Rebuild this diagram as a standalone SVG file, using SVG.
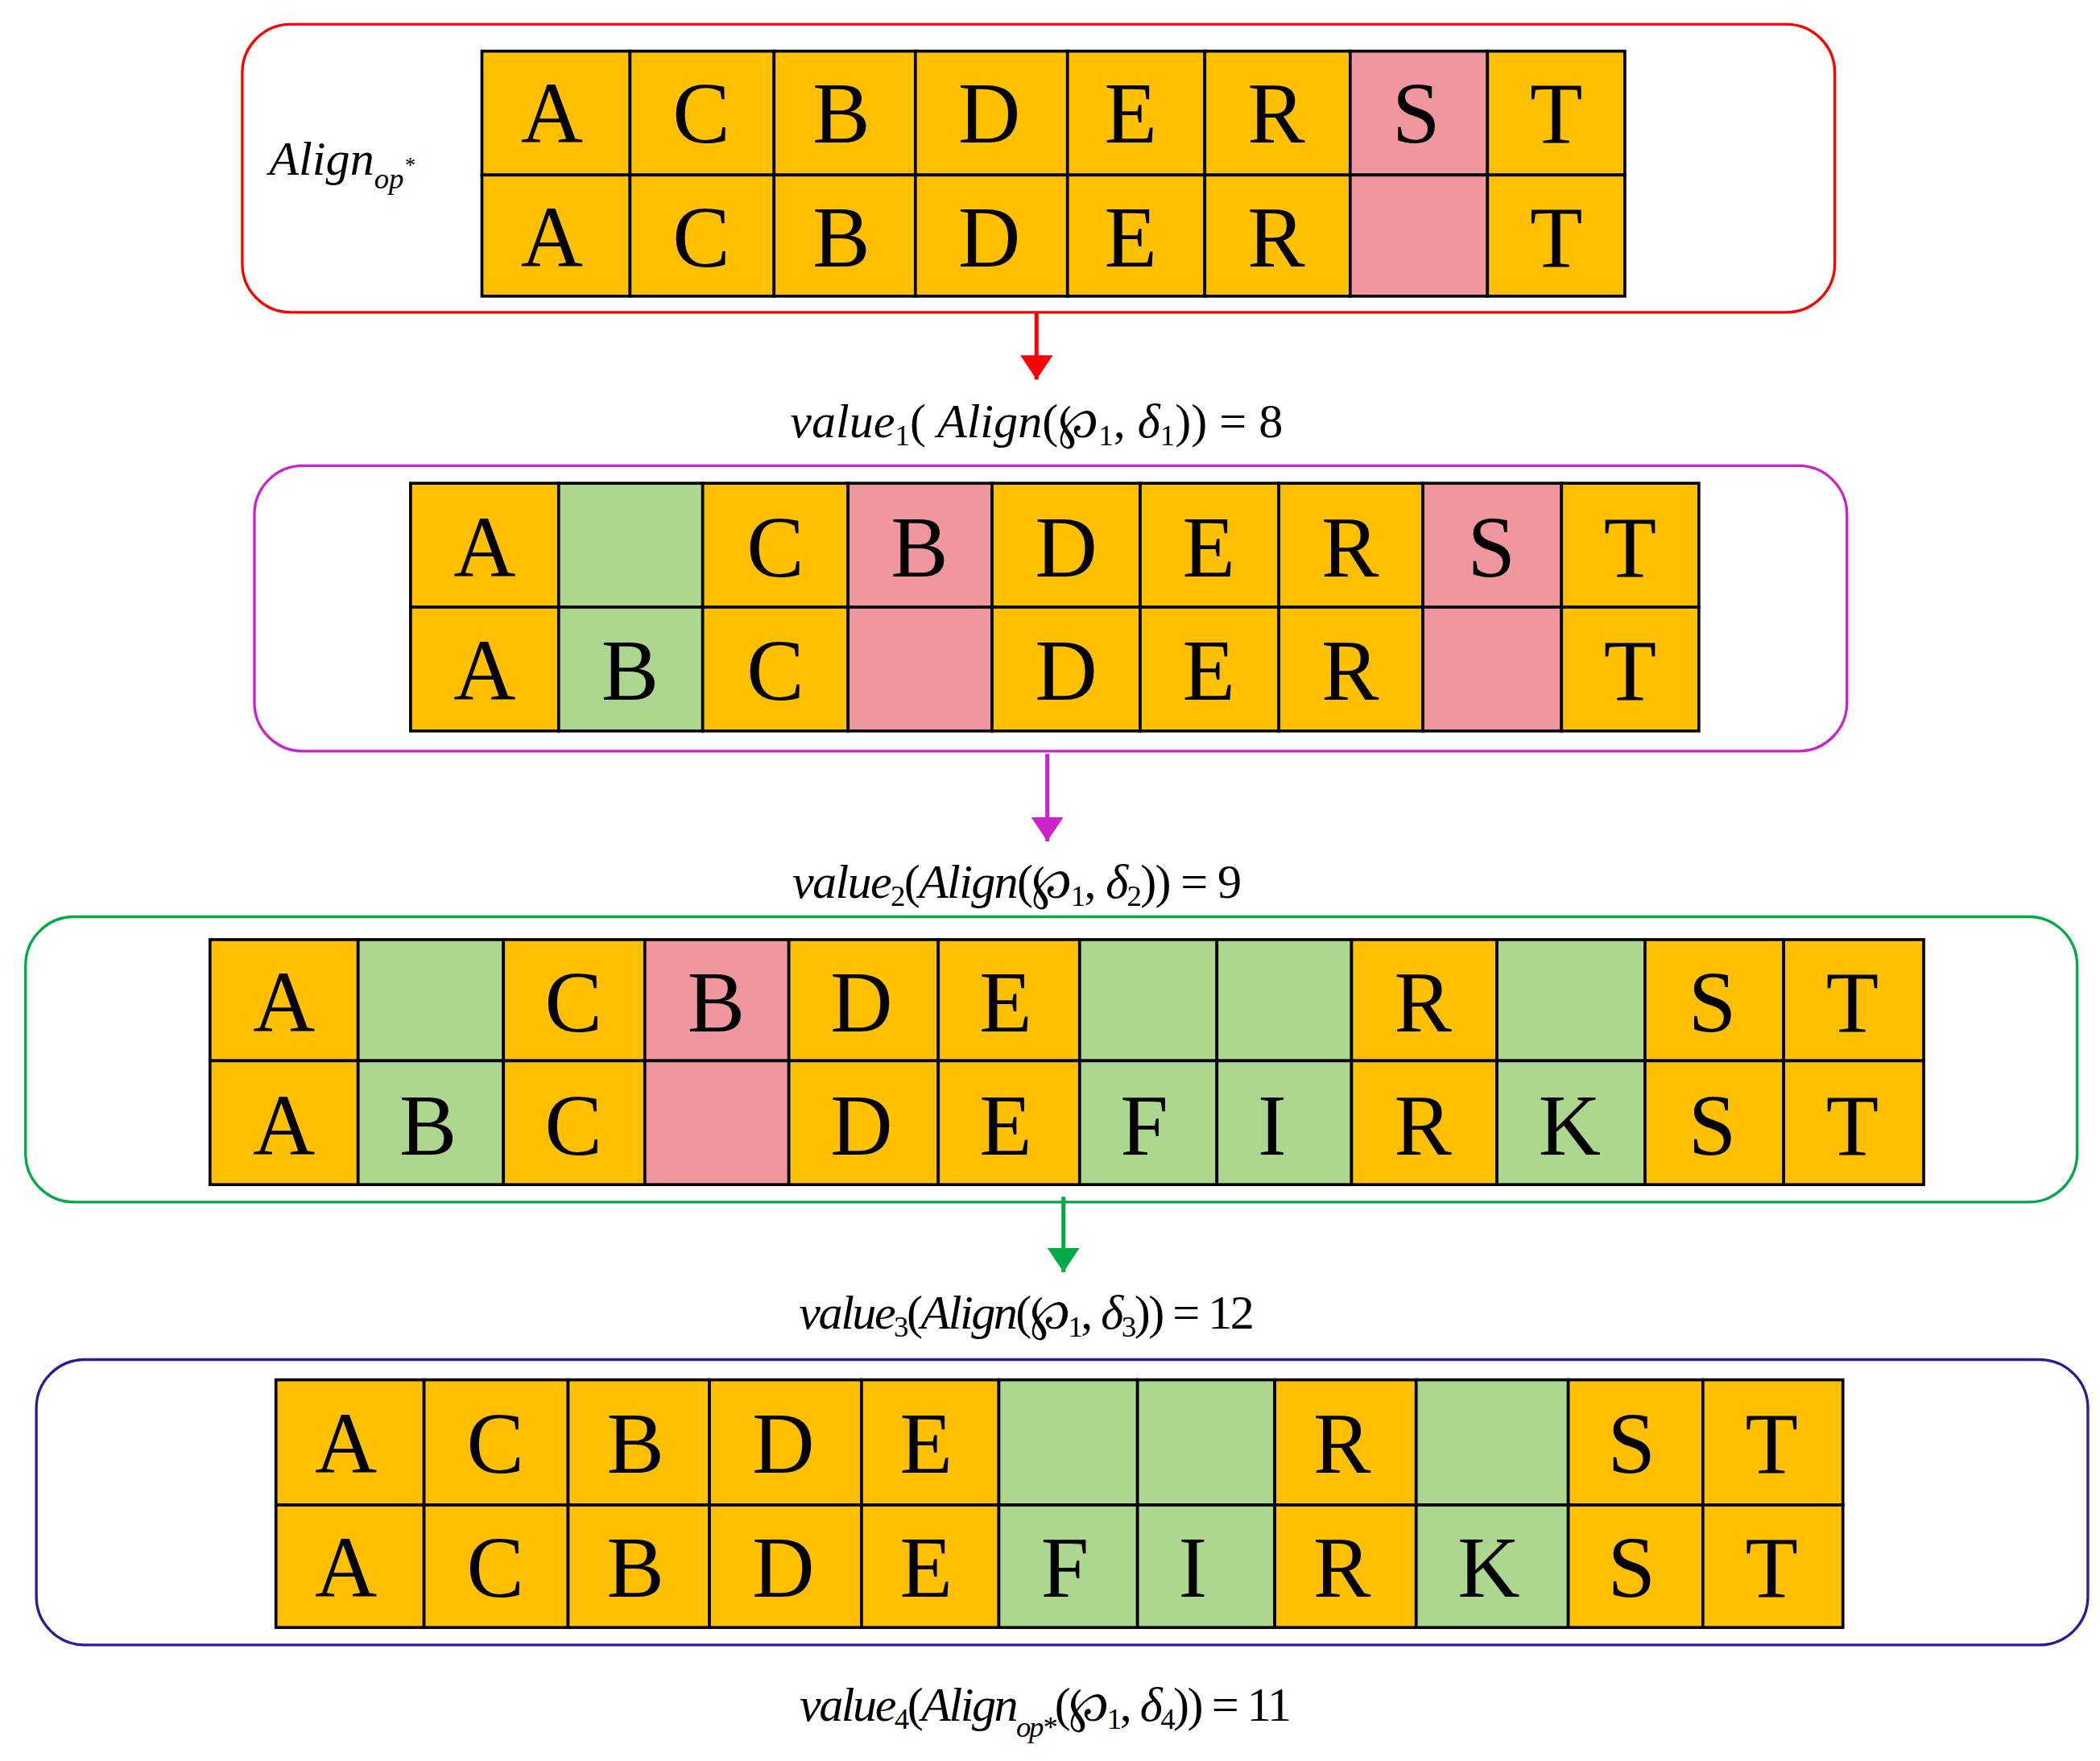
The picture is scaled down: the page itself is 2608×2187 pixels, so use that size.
<svg xmlns="http://www.w3.org/2000/svg" width="2608" height="2187" viewBox="0 0 2608 2187">
<style>
.o{fill:#FFC000;stroke:#000;stroke-width:2.2}
.p{fill:#F0969E;stroke:#000;stroke-width:2.2}
.g{fill:#ADD78F;stroke:#000;stroke-width:2.2}
.c{font-family:"Liberation Serif",serif;font-size:64px;text-anchor:middle;fill:#000}
.l{font-family:"Liberation Serif",serif;font-size:36px;text-anchor:middle;fill:#000}
.i{font-style:italic}
.s{font-size:22px}
</style>
<defs>
<marker id="mr" markerWidth="6" markerHeight="8" refX="6" refY="4" orient="auto" markerUnits="strokeWidth"><path d="M0,0L6,4L0,8z" fill="#FF0000"/></marker>
<marker id="mm" markerWidth="6" markerHeight="8" refX="6" refY="4" orient="auto" markerUnits="strokeWidth"><path d="M0,0L6,4L0,8z" fill="#CC22CC"/></marker>
<marker id="mg" markerWidth="6" markerHeight="8" refX="6" refY="4" orient="auto" markerUnits="strokeWidth"><path d="M0,0L6,4L0,8z" fill="#00AA44"/></marker>
</defs>
<rect width="2608" height="2187" fill="#fff"/>
<g transform="scale(1.6718)">
<g id="box1">
<rect x="180" y="18" width="1183" height="214" rx="36" fill="none" stroke="#FF0000" stroke-width="2"/>
<text x="200" y="130" class="l i" style="text-anchor:start">Align<tspan class="s" dy="10">op</tspan><tspan class="s" dy="-12" style="font-size:16px">*</tspan></text>
<rect class="o" x="358" y="38" width="110" height="92"/><rect class="o" x="468" y="38" width="107" height="92"/><rect class="o" x="575" y="38" width="105" height="92"/><rect class="o" x="680" y="38" width="113" height="92"/><rect class="o" x="793" y="38" width="102" height="92"/><rect class="o" x="895" y="38" width="108" height="92"/><rect class="p" x="1003" y="38" width="102" height="92"/><rect class="o" x="1105" y="38" width="102" height="92"/>
<rect class="o" x="358" y="130" width="110" height="90"/><rect class="o" x="468" y="130" width="107" height="90"/><rect class="o" x="575" y="130" width="105" height="90"/><rect class="o" x="680" y="130" width="113" height="90"/><rect class="o" x="793" y="130" width="102" height="90"/><rect class="o" x="895" y="130" width="108" height="90"/><rect class="p" x="1003" y="130" width="102" height="90"/><rect class="o" x="1105" y="130" width="102" height="90"/>
<text class="c" y="106"><tspan x="410">A</tspan><tspan x="521">C</tspan><tspan x="625">B</tspan><tspan x="735">D</tspan><tspan x="840">E</tspan><tspan x="948">R</tspan><tspan x="1052">S</tspan><tspan x="1156">T</tspan></text>
<text class="c" y="198"><tspan x="410">A</tspan><tspan x="521">C</tspan><tspan x="625">B</tspan><tspan x="735">D</tspan><tspan x="840">E</tspan><tspan x="948">R</tspan><tspan x="1156">T</tspan></text>
</g>
<g id="box2">
<rect x="189" y="346" width="1183" height="212" rx="36" fill="none" stroke="#CC22CC" stroke-width="2"/>
<rect class="o" x="305" y="359" width="110" height="92"/><rect class="g" x="415" y="359" width="107" height="92"/><rect class="o" x="522" y="359" width="108" height="92"/><rect class="p" x="630" y="359" width="107" height="92"/><rect class="o" x="737" y="359" width="110" height="92"/><rect class="o" x="847" y="359" width="103" height="92"/><rect class="o" x="950" y="359" width="107" height="92"/><rect class="p" x="1057" y="359" width="103" height="92"/><rect class="o" x="1160" y="359" width="102" height="92"/>
<rect class="o" x="305" y="451" width="110" height="92"/><rect class="g" x="415" y="451" width="107" height="92"/><rect class="o" x="522" y="451" width="108" height="92"/><rect class="p" x="630" y="451" width="107" height="92"/><rect class="o" x="737" y="451" width="110" height="92"/><rect class="o" x="847" y="451" width="103" height="92"/><rect class="o" x="950" y="451" width="107" height="92"/><rect class="p" x="1057" y="451" width="103" height="92"/><rect class="o" x="1160" y="451" width="102" height="92"/>
<text class="c" y="428"><tspan x="360">A</tspan><tspan x="576">C</tspan><tspan x="683">B</tspan><tspan x="792">D</tspan><tspan x="898">E</tspan><tspan x="1003">R</tspan><tspan x="1108">S</tspan><tspan x="1211">T</tspan></text>
<text class="c" y="520"><tspan x="360">A</tspan><tspan x="468">B</tspan><tspan x="576">C</tspan><tspan x="792">D</tspan><tspan x="898">E</tspan><tspan x="1003">R</tspan><tspan x="1211">T</tspan></text>
</g>
<g id="box3">
<rect x="19" y="681" width="1524" height="212" rx="36" fill="none" stroke="#00AA44" stroke-width="2"/>
<rect class="o" x="156" y="698" width="110" height="90"/><rect class="g" x="266" y="698" width="108" height="90"/><rect class="o" x="374" y="698" width="105" height="90"/><rect class="p" x="479" y="698" width="107" height="90"/><rect class="o" x="586" y="698" width="111" height="90"/><rect class="o" x="697" y="698" width="105" height="90"/><rect class="g" x="802" y="698" width="102" height="90"/><rect class="g" x="904" y="698" width="100" height="90"/><rect class="o" x="1004" y="698" width="108" height="90"/><rect class="g" x="1112" y="698" width="110" height="90"/><rect class="o" x="1222" y="698" width="103" height="90"/><rect class="o" x="1325" y="698" width="104" height="90"/>
<rect class="o" x="156" y="788" width="110" height="92"/><rect class="g" x="266" y="788" width="108" height="92"/><rect class="o" x="374" y="788" width="105" height="92"/><rect class="p" x="479" y="788" width="107" height="92"/><rect class="o" x="586" y="788" width="111" height="92"/><rect class="o" x="697" y="788" width="105" height="92"/><rect class="g" x="802" y="788" width="102" height="92"/><rect class="g" x="904" y="788" width="100" height="92"/><rect class="o" x="1004" y="788" width="108" height="92"/><rect class="g" x="1112" y="788" width="110" height="92"/><rect class="o" x="1222" y="788" width="103" height="92"/><rect class="o" x="1325" y="788" width="104" height="92"/>
<text class="c" y="766"><tspan x="211">A</tspan><tspan x="426">C</tspan><tspan x="532">B</tspan><tspan x="640">D</tspan><tspan x="747">E</tspan><tspan x="1057">R</tspan><tspan x="1272">S</tspan><tspan x="1376">T</tspan></text>
<text class="c" y="858"><tspan x="211">A</tspan><tspan x="318">B</tspan><tspan x="426">C</tspan><tspan x="640">D</tspan><tspan x="747">E</tspan><tspan x="850">F</tspan><tspan x="945">I</tspan><tspan x="1057">R</tspan><tspan x="1166">K</tspan><tspan x="1272">S</tspan><tspan x="1376">T</tspan></text>
</g>
<g id="box4">
<rect x="27" y="1010" width="1524" height="212" rx="36" fill="none" stroke="#2B1A9A" stroke-width="2"/>
<rect class="o" x="205" y="1025" width="110" height="93"/><rect class="o" x="315" y="1025" width="107" height="93"/><rect class="o" x="422" y="1025" width="105" height="93"/><rect class="o" x="527" y="1025" width="113" height="93"/><rect class="o" x="640" y="1025" width="102" height="93"/><rect class="g" x="742" y="1025" width="103" height="93"/><rect class="g" x="845" y="1025" width="102" height="93"/><rect class="o" x="947" y="1025" width="105" height="93"/><rect class="g" x="1052" y="1025" width="113" height="93"/><rect class="o" x="1165" y="1025" width="100" height="93"/><rect class="o" x="1265" y="1025" width="104" height="93"/>
<rect class="o" x="205" y="1118" width="110" height="91"/><rect class="o" x="315" y="1118" width="107" height="91"/><rect class="o" x="422" y="1118" width="105" height="91"/><rect class="o" x="527" y="1118" width="113" height="91"/><rect class="o" x="640" y="1118" width="102" height="91"/><rect class="g" x="742" y="1118" width="103" height="91"/><rect class="g" x="845" y="1118" width="102" height="91"/><rect class="o" x="947" y="1118" width="105" height="91"/><rect class="g" x="1052" y="1118" width="113" height="91"/><rect class="o" x="1165" y="1118" width="100" height="91"/><rect class="o" x="1265" y="1118" width="104" height="91"/>
<text class="c" y="1094"><tspan x="257">A</tspan><tspan x="368">C</tspan><tspan x="472">B</tspan><tspan x="582">D</tspan><tspan x="688">E</tspan><tspan x="997">R</tspan><tspan x="1212">S</tspan><tspan x="1316">T</tspan></text>
<text class="c" y="1186"><tspan x="257">A</tspan><tspan x="368">C</tspan><tspan x="472">B</tspan><tspan x="582">D</tspan><tspan x="688">E</tspan><tspan x="791">F</tspan><tspan x="886">I</tspan><tspan x="997">R</tspan><tspan x="1106">K</tspan><tspan x="1212">S</tspan><tspan x="1316">T</tspan></text>
</g>
<g id="connectors">
<line x1="770" y1="232" x2="770" y2="282" stroke="#FF0000" stroke-width="3" marker-end="url(#mr)"/>
<line x1="778" y1="560" x2="778" y2="625" stroke="#CC22CC" stroke-width="3" marker-end="url(#mm)"/>
<line x1="790" y1="889" x2="790" y2="945" stroke="#00AA44" stroke-width="3" marker-end="url(#mg)"/>
</g>
<g id="labels">
<text class="l" x="770" y="325"><tspan class="i">value</tspan><tspan class="s" dy="6">1</tspan><tspan dy="-6">(</tspan><tspan class="i"> Align</tspan>(℘<tspan class="s" dy="6">1</tspan><tspan dy="-6">, </tspan><tspan class="i">δ</tspan><tspan class="s" dy="6">1</tspan><tspan dy="-6">)) = 8</tspan></text>
<text class="l" x="755" y="667" style="letter-spacing:-1px"><tspan class="i">value</tspan><tspan class="s" dy="6">2</tspan><tspan dy="-6">(</tspan><tspan class="i">Align</tspan>(℘<tspan class="s" dy="6">1</tspan><tspan dy="-6">, </tspan><tspan class="i">δ</tspan><tspan class="s" dy="6">2</tspan><tspan dy="-6">)) = 9</tspan></text>
<text class="l" x="762" y="987" style="letter-spacing:-1.5px"><tspan class="i">value</tspan><tspan class="s" dy="6">3</tspan><tspan dy="-6">(</tspan><tspan class="i">Align</tspan>(℘<tspan class="s" dy="6">1</tspan><tspan dy="-6">, </tspan><tspan class="i">δ</tspan><tspan class="s" dy="6">3</tspan><tspan dy="-6">)) = 12</tspan></text>
<text class="l" x="776" y="1278" style="letter-spacing:-1.5px"><tspan class="i">value</tspan><tspan class="s" dy="6">4</tspan><tspan dy="-6">(</tspan><tspan class="i">Align</tspan><tspan class="s i" dy="12">op*</tspan><tspan dy="-12">(℘</tspan><tspan class="s" dy="6">1</tspan><tspan dy="-6">, </tspan><tspan class="i">δ</tspan><tspan class="s" dy="6">4</tspan><tspan dy="-6">)) = 11</tspan></text>
</g>
</g>
</svg>
